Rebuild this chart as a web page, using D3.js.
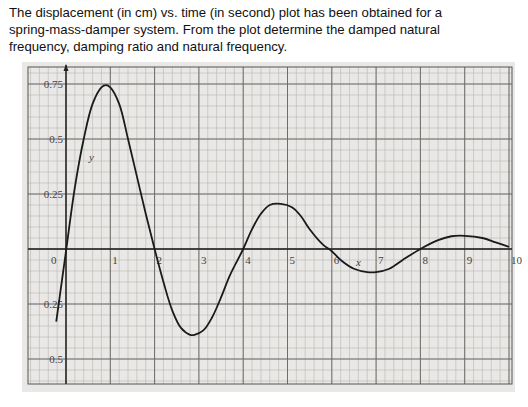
<!DOCTYPE html>
<html><head><meta charset="utf-8">
<script src="https://cdn.jsdelivr.net/npm/d3@7"></script>
<style>body{margin:0;background:#fff}</style>
</head><body>
<svg id="c" width="528" height="407"></svg>
<script>
// title text above the photo of the plot
const titleLines = [
  "The displacement (in cm) vs. time (in second) plot has been obtained for a",
  "spring-mass-damper system. From the plot determine the damped natural",
  "frequency, damping ratio and natural frequency."
];
// curve
const tVals = [-0.22,0,0.2,0.4,0.6,0.8,0.9,1.0,1.2,1.4,1.6,1.8,2.0,2.2,2.4,2.6,2.8,2.9,3.1,3.3,3.5,3.7,4.0,4.2,4.4,4.6,4.85,5.1,5.3,5.5,5.8,6.0,6.2,6.5,6.8,7.0,7.3,7.6,8.0,8.4,8.7,9.0,9.4,9.7,10.0];
const yVals = [-0.33,-0.01,0.28,0.5,0.66,0.735,0.745,0.735,0.66,0.5,0.33,0.16,0,-0.15,-0.28,-0.36,-0.39,-0.39,-0.37,-0.31,-0.22,-0.12,0,0.09,0.16,0.2,0.205,0.19,0.15,0.09,0.02,-0.01,-0.05,-0.09,-0.105,-0.105,-0.09,-0.05,0,0.04,0.058,0.06,0.05,0.03,0.01];
const xTicks = [1,2,3,4,5,6,7,8,9,10];
const yTicks = [0.75,0.5,0.25,-0.25,-0.5];
const yTickLabels = ["0.75","0.5","0.25","0.25","0.5"];

const svg = d3.select("#c");
svg.append("g").selectAll("text").data(titleLines).enter().append("text")
  .attr("x", 9).attr("y", (d,i) => 17 + i*17)
  .attr("font-family", "Liberation Sans, Arial, sans-serif").attr("font-size", 13.2)
  .attr("fill", "#111").text(d => d);

// paper
svg.append("rect").attr("x", 22).attr("y", 62).attr("width", 493).attr("height", 330).attr("fill", "#e9e8e6");

const x = d3.scaleLinear().domain([0, 10]).range([66, 509]);
const y = d3.scaleLinear().domain([0, 0.75]).range([249, 84]);
const pLeft = 28, pRight = 512, pTop = 67, pBottom = 384;
const g = svg.append("g");

// minor grid
d3.range(-0.8, 10.41, 0.2).forEach(v => {
  const px = x(v); if (px < pLeft || px > pRight) return;
  g.append("line").attr("x1", px).attr("x2", px).attr("y1", pTop).attr("y2", pBottom).attr("stroke", "#b9b7b4").attr("stroke-width", 0.6);
});
d3.range(-0.6, 0.86, 0.05).forEach(v => {
  const py = y(v); if (py < pTop || py > pBottom) return;
  g.append("line").attr("x1", pLeft).attr("x2", pRight).attr("y1", py).attr("y2", py).attr("stroke", "#b9b7b4").attr("stroke-width", 0.6);
});
// major grid
d3.range(0, 11).forEach(v => {
  g.append("line").attr("x1", x(v)).attr("x2", x(v)).attr("y1", pTop).attr("y2", pBottom).attr("stroke", "#6f6d6b").attr("stroke-width", 1);
});
d3.range(-0.5, 0.76, 0.25).forEach(v => {
  g.append("line").attr("x1", pLeft).attr("x2", pRight).attr("y1", y(v)).attr("y2", y(v)).attr("stroke", "#6f6d6b").attr("stroke-width", 1);
});
// frame
g.append("rect").attr("x", pLeft).attr("y", pTop).attr("width", pRight-pLeft).attr("height", pBottom-pTop)
  .attr("fill", "none").attr("stroke", "#555").attr("stroke-width", 1);
// axes
g.append("line").attr("x1", pLeft).attr("x2", pRight).attr("y1", y(0)).attr("y2", y(0)).attr("stroke", "#222").attr("stroke-width", 1.4);
g.append("line").attr("x1", x(0)).attr("x2", x(0)).attr("y1", pTop-2).attr("y2", pBottom).attr("stroke", "#222").attr("stroke-width", 1.4);
g.append("path").attr("d", `M${x(0)-2.5},${pTop+4}L${x(0)},${pTop-3}L${x(0)+2.5},${pTop+4}Z`).attr("fill", "#222");

const serif = "Liberation Serif, Times New Roman, serif";
g.selectAll(".xt").data(xTicks).enter().append("text")
  .attr("x", d => x(d) + 2).attr("y", y(0) + 15)
  .attr("font-family", serif).attr("font-size", 11).attr("fill", "#444").text(d => d);
g.append("text").attr("x", x(0) - 15).attr("y", y(0) + 15).attr("font-family", serif).attr("font-size", 11).attr("fill", "#444").text("0");
g.selectAll(".yt").data(yTicks).enter().append("text")
  .attr("x", x(0) - 3).attr("y", d => y(d) + 4).attr("text-anchor", "end")
  .attr("font-family", serif).attr("font-size", 11).attr("fill", "#444")
  .text((d,i) => yTickLabels[i]);
g.append("text").attr("x", 89).attr("y", 161).attr("font-family", serif).attr("font-style", "italic").attr("font-size", 11).attr("fill", "#444").text("y");
g.append("text").attr("x", 356).attr("y", 266).attr("font-family", serif).attr("font-style", "italic").attr("font-size", 11).attr("fill", "#444").text("x");

const line = d3.line().x((d,i) => x(tVals[i])).y(d => y(d)).curve(d3.curveCatmullRom);
g.append("path").datum(yVals).attr("d", line).attr("fill", "none").attr("stroke", "#1a1a1a").attr("stroke-width", 1.8);
</script>
</body></html>
